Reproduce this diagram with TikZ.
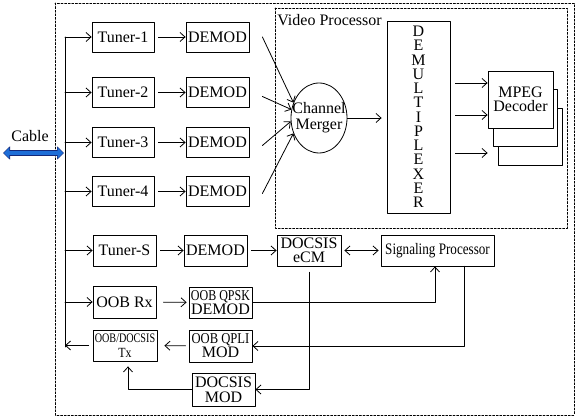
\documentclass[tikz,border=0pt]{standalone}
\usepackage{graphicx}
\usepackage{fontspec}
\setmainfont{Liberation Serif}
\usetikzlibrary{arrows.meta,shapes.geometric}

\definecolor{cableblue}{RGB}{30,110,215}
\definecolor{cableedge}{RGB}{20,40,120}

\newcommand{\narrow}[2]{\scalebox{#1}[1]{#2}}

\tikzset{
  box/.style={draw, rectangle, inner sep=0pt, minimum width=63pt, minimum height=31pt, align=center},
  dotbox/.style={dash pattern=on 2pt off 1.6pt, line width=0.7pt},
}

\begin{document}
\begin{tikzpicture}[line cap=round,line join=round,x=1pt,y=1pt,line width=0.8pt,
  >={Straight Barb[length=5pt,width=9pt]},font=\fontsize{16}{17}\selectfont]
\useasboundingbox (0,0) rectangle (576,419);

% dotted frames
\draw[dotbox] (55,416) rectangle (574,4);
\draw[dotbox] (275,411) rectangle (567,191);
\node[anchor=west,inner sep=0pt] (vp) at (277,399) {Video Processor};

% tuners and demodulators
\node[box, minimum width=62pt, minimum height=30pt] (t1) at (123,382) {Tuner-1};
\node[box, minimum width=62pt, minimum height=30pt] (t2) at (123,326.5) {Tuner-2};
\node[box, minimum width=62pt, minimum height=30pt] (t3) at (123,276.5) {Tuner-3};
\node[box, minimum width=62pt, minimum height=30pt] (t4) at (123,227.5) {Tuner-4};
\node[box, minimum height=30pt] (d1) at (217.5,382) {DEMOD};
\node[box, minimum height=30pt] (d2) at (217.5,326.5) {DEMOD};
\node[box, minimum height=30pt] (d3) at (217.5,276.5) {DEMOD};
\node[box, minimum height=30pt] (d4) at (217.5,227.5) {DEMOD};

% video processor
\node[draw, ellipse, inner sep=0pt, minimum width=56pt, minimum height=70pt] (ch) at (319,301) {};
\node[align=center, inner sep=0pt, font=\fontsize{16}{16}\selectfont] (chl) at (ch.center) {Channel\\Merger};
\node[box, minimum height=192pt, font=\fontsize{16}{14.25}\selectfont] (dmx) at (418.5,302)
  {D\\E\\M\\U\\L\\T\\I\\P\\L\\E\\X\\E\\R};
\node[box, fill=white, minimum width=64pt, minimum height=57pt] (mp3) at (530.5,282) {};
\node[box, fill=white, minimum width=64pt, minimum height=57pt] (mp2) at (525.5,301) {};
\node[box, fill=white, minimum width=65pt, minimum height=57pt, font=\fontsize{16}{14}\selectfont] (mp) at (520.5,319.5) {MPEG\\Decoder};

% signalling path
\node[box] (ts) at (124.5,168.5) {Tuner-S};
\node[box] (ds) at (215.5,168.5) {DEMOD};
\node[box, minimum width=64pt, font=\fontsize{16}{14.5}\selectfont] (ecm) at (309,168.5) {DOCSIS\\eCM};
\node[box, minimum width=113pt] (sp) at (437.5,168.5) {\narrow{0.82}{Signaling Processor}};
\node[box, minimum height=32pt] (rx) at (124.5,117) {OOB Rx};
\node[box, font=\fontsize{16}{14}\selectfont] (qpsk) at (220.5,116.5) {{\fontsize{15}{14}\selectfont\narrow{0.8}{OOB QPSK}}\\DEMOD};
\node[box, minimum width=64pt, font=\fontsize{14}{15}\selectfont] (tx) at (125,73.5) {{\fontsize{13}{14}\selectfont\narrow{0.78}{OOB/DOCSIS}}\\\narrow{0.85}{Tx}};
\node[box, minimum height=32pt, font=\fontsize{16}{14}\selectfont] (qpli) at (220.5,73) {{\fontsize{15}{14}\selectfont\narrow{0.84}{OOB QPLI}}\\MOD};
\node[box, minimum height=33pt, font=\fontsize{16}{15}\selectfont] (dmod) at (223.5,29.5) {DOCSIS\\MOD};

% cable and bus
\node (cbl) at (30,283) {Cable};
\coordinate (cl) at (3,266);
\coordinate (cab) at (64,266);
\draw[{Triangle[length=7pt,width=13pt]}-{Triangle[length=7pt,width=13pt]}, line width=6.5pt, draw=cableedge] (cl) -- (cab);
\draw[{Triangle[length=5.5pt,width=10.5pt]}-{Triangle[length=5.5pt,width=10.5pt]}, line width=4pt, draw=cableblue, shorten <=0.9pt, shorten >=0.9pt] (cl) -- (cab);
\coordinate (bt) at (65,382);
\coordinate (bb) at (65,72);
\draw (bt) -- (bb);
\foreach \n in {t1,t2,t3,t4,ts,rx}
  \draw[->] (\n.west -| bt) -- (\n.west);
\draw[->, shorten <=4pt] (tx.west) -- (tx.west -| bb);

% forward connections
\foreach \a/\b in {t1/d1,t2/d2,t3/d3,t4/d4,ts/ds,ds/ecm}
  \draw[->, shorten <=4pt] (\a) -- (\b);
\draw[->, shorten <=7pt, shorten >=2pt] (rx) -- (qpsk);
\draw[->] ([xshift=13pt]d1.east) -- (ch.149);
\draw[->] ([xshift=13pt,yshift=-4pt]d2.east) -- (ch.163);
\draw[->] ([xshift=13pt,yshift=-3pt]d3.east) -- (ch.187);
\draw[->] ([xshift=13pt,yshift=-2pt]d4.east) -- (ch.211);
\draw[->, shorten >=5pt] (ch.east) -- (ch.east -| dmx.west);
\draw[->] ([shift={(5,34)}]dmx.east) -- ([yshift=34pt]dmx.east -| mp.west);
\draw[->] ([shift={(5,2)}]dmx.east) -- ([yshift=2pt]dmx.east -| mp.west);
\draw[->] ([shift={(5,-36)}]dmx.east) -- ([yshift=-36pt]dmx.east -| mp.west);
\draw[<->, shorten <=3pt, shorten >=2pt] (ecm) -- (sp);

% return paths
\draw[->] (qpsk.east) -| ([xshift=-2.5pt]sp.south);
\draw[->] ([xshift=26.5pt]sp.south) |- (qpli.east);
\draw[->] ([yshift=-6pt]ecm.south) |- (dmod.east);
\draw[->, shorten <=3pt, shorten >=7pt] (qpli) -- (tx);
\draw[->, shorten >=5pt] (dmod.west) -| ([xshift=3pt]tx.south);
\end{tikzpicture}
\end{document}
